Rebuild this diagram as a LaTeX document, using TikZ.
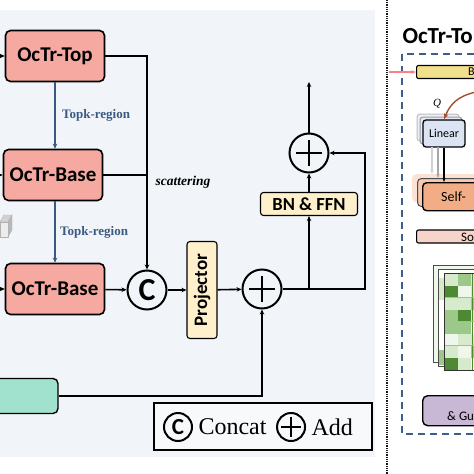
\documentclass[tikz,border=0pt]{standalone}
\usepackage{fontspec}
\setmainfont{Liberation Serif}
\setsansfont{Carlito}
\usepackage{xcolor}
\usetikzlibrary{arrows.meta,positioning,calc}
\definecolor{PanelF}{HTML}{F1F5F9}
\definecolor{PinkF}{HTML}{F5A9A1}
\definecolor{CreamF}{HTML}{FDF0CB}
\definecolor{TealF}{HTML}{A0E2CE}
\definecolor{TopkB}{HTML}{3A5A82}
\definecolor{DashB}{HTML}{3E5E8C}
\definecolor{BarY}{HTML}{F0E08C}
\definecolor{LinF}{HTML}{DCE4F4}
\definecolor{OrgF}{HTML}{F3AD86}
\definecolor{SalF}{HTML}{F7D4C9}
\definecolor{LilF}{HTML}{C9B7D6}
\definecolor{Brn}{HTML}{A0522D}
\definecolor{GrD}{HTML}{4E8A34}
\definecolor{GrM}{HTML}{9CC98A}
\definecolor{GrL}{HTML}{D6EBCB}
\definecolor{GrP}{HTML}{EEF7EA}

\begin{document}
\begin{tikzpicture}[x=1pt,y=-1pt,
    font=\sffamily\bfseries,
    octr/.style={draw=black,fill=PinkF,rounded corners=5pt,line width=1.6pt,
      minimum width=99pt,minimum height=51pt,font=\sffamily\bfseries\fontsize{21}{23}\selectfont},
    cream/.style={draw=black,fill=CreamF,rounded corners=3pt,line width=1.1pt},
    opc/.style={circle,draw=black,line width=2pt,minimum size=39pt,inner sep=0pt},
    addop/.style={opc,path picture={
      \draw[line width=2.2pt] ([xshift=-13pt]path picture bounding box.center) -- ([xshift=13pt]path picture bounding box.center);
      \draw[line width=2.2pt] ([yshift=-13pt]path picture bounding box.center) -- ([yshift=13pt]path picture bounding box.center);}},
    topk/.style={text=TopkB,font=\rmfamily\bfseries\fontsize{13}{15}\selectfont},
    wire/.style={line width=1.6pt,-{Stealth[length=5pt,width=4.5pt]}},
    >=Stealth]
  \useasboundingbox (0,0) rectangle (474,474);
  \clip (0,0) rectangle (474,474);
  \fill[PanelF] (0,10) rectangle (375,457);

  % left panel
  \node[octr] (top) at (55,56) {OcTr-Top};
  \node[octr] (mid) at (53,175) {OcTr-Base};
  \node[octr] (bot) at (55,289) {OcTr-Base};
  \coordinate (in1) at (-2,56);
  \coordinate (in2) at (-2,175);
  \coordinate (in3) at (-2,289);
  \node[opc,font=\sffamily\bfseries\fontsize{32}{32}\selectfont] (cat) at (147,290) {C};
  \node[cream,minimum width=97pt,minimum height=30pt,rotate=90,
    font=\sffamily\bfseries\fontsize{19}{21}\selectfont] (proj) at (202,290) {Projector};
  \node[addop] (add1) at (262,289) {};
  \node[cream,minimum width=97pt,minimum height=23pt,
    font=\sffamily\bfseries\fontsize{18.5}{20}\selectfont] (ffn) at (309,204) {BN \& FFN};
  \node[addop] (add2) at (309,153) {};
  \coordinate (out) at (309,82);
  \coordinate (rt) at (365,289);
  \node[draw=black,fill=TealF,rounded corners=5pt,line width=1.4pt,
    minimum width=80pt,minimum height=35pt] (enc) at (18,396) {};

  \draw[wire] (in1) -- (top);
  \draw[wire] (in2) -- (mid);
  \draw[wire] (in3) -- (bot);
  \draw[wire,TopkB] (top.south) -- (top.south |- mid.north)
    node[topk,midway,right=3pt] {Topk-region};
  \draw[wire,TopkB] (top.south |- mid.south) -- (top.south |- bot.north)
    node[topk,midway,right=1pt] {Topk-region};
  \draw[wire] (top.east) -| (cat.north);
  \draw[line width=1.6pt] (mid.east) -- (mid.east -| cat);
  \node[font=\rmfamily\bfseries\itshape\fontsize{13.5}{15}\selectfont] (scat) at (183,182) {scattering};
  \draw[wire] (bot) -- (cat);
  \draw[wire] (cat) -- (proj);
  \draw[wire] (proj) -- (add1);
  \draw[wire] (enc.east) -| (add1.south);
  \draw[wire] (add1.east) -- (rt) |- (add2.east);
  \draw[wire] (add1.east -| ffn) -- (ffn.south);
  \draw[wire] (ffn) -- (add2);
  \draw[wire] (add2) -- (out);

  % gray cube corner
  \fill[gray!35,draw=gray!60] (0,222) -- (4,215) -- (12,215) -- (8,222) -- cycle;
  \fill[gray!55,draw=gray!60] (8,222) -- (12,215) -- (12,230) -- (8,237) -- cycle;
  \fill[gray!15,draw=gray!60] (0,222) -- (8,222) -- (8,237) -- (0,237) -- cycle;

  % legend
  \node[draw=black,line width=1.3pt,fill=PanelF!60!white,minimum width=218pt,minimum height=47pt] (leg) at (263,426.5) {};
  \node[opc,minimum size=28pt,line width=2pt,font=\sffamily\bfseries\fontsize{23}{23}\selectfont] (lgc) at (178,427) {C};
  \node[font=\rmfamily\mdseries\fontsize{24}{26}\selectfont,right=2pt of lgc] (lgct) {Concat};
  \node[opc,minimum size=28pt,line width=2pt,right=6pt of lgct,path picture={
      \draw[line width=2pt] ([xshift=-10pt]path picture bounding box.center) -- ([xshift=10pt]path picture bounding box.center);
      \draw[line width=2pt] ([yshift=-10pt]path picture bounding box.center) -- ([yshift=10pt]path picture bounding box.center);}] (lga) {};
  \node[font=\rmfamily\mdseries\fontsize{24}{26}\selectfont,right=2pt of lga] (lgat) {Add};

  % divider
  \draw[line width=1.6pt,gray!20!black,dash pattern=on 1pt off 0.8pt] (387,0) -- (387,474);

  % right panel
  \node[anchor=west,font=\sffamily\bfseries\fontsize{23}{25}\selectfont] (ttl) at (399,36) {OcTr-To};
  \draw[DashB,line width=1.7pt,dash pattern=on 7pt off 5pt] (402,54) rectangle (520,434);
  \node[draw=black,fill=BarY,rounded corners=2pt,line width=1.1pt,anchor=west,
    minimum width=80pt,minimum height=13pt] (bar) at (416,72) {};
  \node[anchor=west,font=\sffamily\mdseries\fontsize{12}{12}\selectfont,inner sep=0pt] at (468,72) {B};
  \coordinate (pin) at (389,72);
  \draw[-{Stealth[length=5pt]},line width=1.3pt,red!50] (pin) -- (bar.west);
  \node[font=\rmfamily\itshape\fontsize{11}{11}\selectfont] (q) at (437,104) {Q};
  % linear stack
  \node[draw=gray!50,fill=LinF!60,rounded corners=3pt,line width=1pt,minimum width=42pt,minimum height=27pt] (lin2) at (438,127.5) {};
  \node[draw=gray!75,fill=LinF!80,rounded corners=3pt,line width=1pt,minimum width=42pt,minimum height=27pt] (lin1) at (441,130.5) {};
  \node[draw=black,fill=LinF,rounded corners=3pt,line width=1.3pt,minimum width=42pt,minimum height=27pt,
    font=\sffamily\mdseries\fontsize{12}{12}\selectfont] (lin) at (444,133.5) {Linear};
  \coordinate (kin) at (476,92);
  \draw[-{Stealth[length=6pt]},Brn,line width=1.4pt] (kin) .. controls (458,96) and (450,104) .. (lin.north);
  % self-attention stack
  \node[fill=OrgF!35,rounded corners=4pt,anchor=north west,minimum width=80pt,minimum height=28pt] (sa2) at (412,174) {};
  \node[draw=black!70,fill=OrgF!65,rounded corners=4pt,line width=1pt,anchor=north west,minimum width=80pt,minimum height=28pt] (sa1) at (417,178) {};
  \node[draw=black,fill=OrgF,rounded corners=4pt,line width=1.4pt,anchor=north west,minimum width=80pt,minimum height=28pt] (sa) at (422,182) {};
  \node[anchor=west,font=\sffamily\mdseries\fontsize{14}{14}\selectfont,inner sep=0pt] at (441,197) {Self-};
  \draw[-{Stealth[length=4pt]},gray!35,line width=1.2pt] (432,147) -- (432,174);
  \draw[-{Stealth[length=4pt]},gray!70,line width=1.2pt] (438,147) -- (438,178);
  \draw[-{Stealth[length=4pt]},black,line width=1.5pt] (lin.south) -- (sa.north -| lin.south);
  % softmax bar
  \node[draw=black,fill=SalF,rounded corners=2pt,line width=1.1pt,anchor=west,
    minimum width=80pt,minimum height=13pt] (sm) at (416,236.5) {};
  \node[anchor=west,font=\sffamily\mdseries\fontsize{13}{13}\selectfont,inner sep=0pt] at (461,237) {So};
  % attention maps
  \draw[black!70,fill=white,line width=0.8pt] (433,265) rectangle (500,362);
  \fill[GrP] (434,266) rectangle (500,361);
  \draw[black!70,fill=white,line width=0.8pt] (438,269) rectangle (500,366);
  \fill[GrL] (439,278) rectangle (444,300);
  \fill[GrM] (439,350) rectangle (444,365);
  \draw[black!80,fill=GrP,line width=1pt] (444,273) rectangle (500,370);
  \foreach \r/\a/\b/\c in {0/GrL/GrM/GrL,1/GrD/GrP/GrL,2/GrL/GrL/GrM,3/GrM/GrD/GrL,
      4/GrM/GrM/GrP,5/GrP/GrL/GrL,6/GrL/GrP/GrM,7/GrD/GrL/GrP} {
    \fill[\a] (445,{274+12*\r}) rectangle (458,{286+12*\r});
    \fill[\b] (458,{274+12*\r}) rectangle (471,{286+12*\r});
    \fill[\c] (471,{274+12*\r}) rectangle (484,{286+12*\r});
  }
  \draw[GrD,line width=1pt] (472,273) -- (472,370);
  \draw[black!30,line width=0.4pt] (445,297) -- (484,297) (445,321) -- (484,321) (445,345) -- (484,345);
  \draw[black!80,line width=1pt] (444,273) rectangle (500,370);
  % gating box
  \node[draw=black,fill=LilF,rounded corners=5pt,line width=1.4pt,anchor=north west,
    minimum width=80pt,minimum height=30pt] (gate) at (422,395) {};
  \node[anchor=west,font=\sffamily\mdseries\fontsize{13}{13}\selectfont,inner sep=0pt] at (447,416) {\& Gu};
\end{tikzpicture}
\end{document}
